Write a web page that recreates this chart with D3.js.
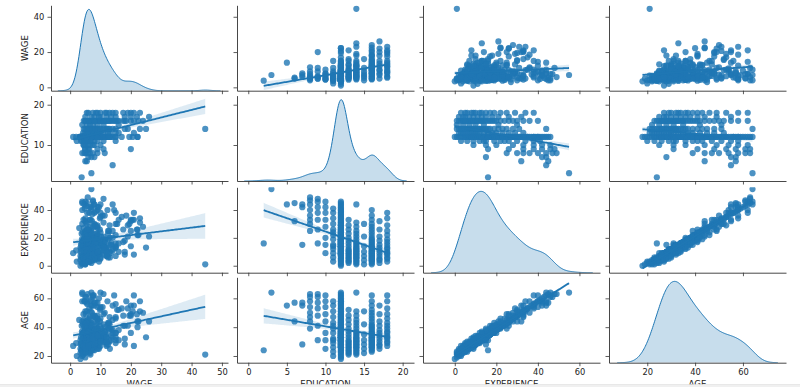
<!DOCTYPE html>
<html><head><meta charset="utf-8">
<script src="https://cdn.jsdelivr.net/npm/d3@7"></script>
<style>body{margin:0;background:#fff;} svg{display:block;font-family:"DejaVu Sans",sans-serif;}</style>
</head><body><svg id="c" width="800" height="387"></svg>
<script>
const VARIABLES = ["WAGE", "EDUCATION", "EXPERIENCE", "AGE"];

const EDUCATION = [
  2, 3, 5, 6, 6, 7, 7, 7,
  8, 8, 8, 8, 8, 8, 8, 8,
  9, 9, 9, 9, 9, 9, 9,
  10, 10, 10, 10, 10, 10, 10, 10,
  11, 11, 11, 11, 11, 11, 11, 11, 11, 11, 11, 11, 11, 11,
  12, 12, 12, 12, 12, 12, 12, 12, 12, 12, 12, 12, 12, 12, 12,
  12, 12, 12, 12, 12, 12, 12, 12, 12, 12, 12, 12, 12, 12, 12,
  12, 12, 12, 12, 12, 12, 12, 12, 12, 12, 12, 12, 12, 12, 12,
  12, 12, 12, 12, 12, 12, 12, 12, 12, 12, 12, 12, 12, 12, 12,
  12, 12, 12, 12, 12, 12, 12, 12, 12, 12, 12, 12, 12, 12, 12,
  12, 12, 12, 12, 12, 12, 12, 12, 12, 12, 12, 12, 12, 12, 12,
  12, 12, 12, 12, 12, 12, 12, 12, 12, 12, 12, 12, 12, 12, 12,
  12, 12, 12, 12, 12, 12, 12, 12, 12, 12, 12, 12, 12, 12, 12,
  12, 12, 12, 12, 12, 12, 12, 12, 12, 12, 12, 12, 12, 12, 12,
  13, 13, 13, 13, 13, 13, 13, 13, 13, 13, 13, 13, 13, 13, 13, 13, 13, 13, 13,
  14, 14, 14, 14, 14, 14, 14, 14, 14, 14, 14, 14, 14, 14,
  14, 14, 14, 14, 14, 14, 14, 14, 14, 14, 14, 14, 14, 14,
  15, 15, 15, 15, 15, 15, 15,
  16, 16, 16, 16, 16, 16, 16, 16, 16, 16, 16, 16, 16, 16, 16, 16, 16, 16, 16,
  16, 16, 16, 16, 16, 16, 16, 16, 16, 16, 16, 16, 16, 16, 16, 16, 16, 16,
  17, 17, 17, 17, 17, 17, 17, 17, 17, 17, 17, 17,
  18, 18, 18, 18, 18, 18, 18, 18, 18, 18, 18, 18, 18, 18, 18, 18
];

const EXPERIENCE = [
  16, 55, 44, 45, 32, 44, 15, 42,
  25, 30, 33, 36, 40, 44, 47, 49,
  16, 26, 33, 38, 42, 46, 48,
  9, 15, 20, 28, 33, 38, 42, 46,
  3, 6, 9, 12, 15, 19, 22, 26, 30, 34, 38, 41, 14, 24,
  0, 1, 2, 3, 4, 5, 21, 23, 26, 28, 24, 19, 27, 22, 29,
  5, 6, 15, 16, 7, 17, 18, 8, 8, 8, 9, 9, 9, 10, 10,
  10, 11, 11, 11, 12, 12, 13, 13, 14, 14, 15, 15, 16, 16, 17,
  17, 18, 18, 19, 19, 20, 20, 21, 21, 22, 22, 23, 24, 25, 25,
  26, 27, 28, 29, 30, 30, 31, 32, 33, 34, 35, 35, 36, 37, 38,
  38, 39, 40, 40, 41, 42, 43, 44, 45, 46, 9, 11, 13, 15, 17,
  7, 8, 9, 10, 11, 12, 13, 14, 15, 16, 10, 14, 8, 12, 18,
  14, 15, 16, 17, 18, 19, 20, 21, 22, 23, 24, 25, 26, 18, 16,
  12, 13, 15, 17, 19, 20, 21, 23, 25, 27, 29, 31, 33, 14, 16,
  2, 3, 4, 5, 6, 7, 8, 9, 10, 11, 12, 14, 16, 18, 20, 23, 26, 29, 33,
  1, 2, 3, 4, 5, 6, 7, 8, 9, 10, 11, 12, 13, 14,
  15, 16, 17, 19, 21, 23, 25, 28, 31, 44, 8, 10, 12, 6,
  1, 4, 7, 10, 14, 21, 30,
  1, 2, 3, 4, 5, 6, 6, 7, 8, 8, 9, 10, 10, 11, 12, 13, 14, 15, 16,
  17, 18, 19, 20, 22, 24, 26, 28, 30, 33, 36, 40, 4, 7, 9, 11, 13, 5,
  2, 4, 5, 7, 9, 11, 13, 15, 18, 21, 26, 32,
  3, 5, 6, 8, 9, 10, 12, 13, 15, 17, 19, 22, 25, 29, 34, 38
];

const WAGE = [
  3.8, 7.0, 14.0, 5.5, 5.0, 8.0, 6.0, 7.0,
  5.1, 4.0, 6.5, 11.4, 9.0, 4.7, 7.5, 5.8,
  4.9, 6.0, 20.0, 6.3, 9.0, 5.0, 11.0,
  4.5, 6.0, 5.0, 8.0, 4.4, 10.0, 6.5, 7.5,
  2.2, 4.0, 5.5, 3.6, 7.0, 4.5, 9.0, 6.0, 15.0, 5.0, 8.0, 4.8, 11.0, 6.5,
  3.4, 5.0, 4.0, 6.7, 3.4, 4.5, 7.5, 3.8, 5.5, 9.0, 4.2, 6.0, 3.0, 5.3, 8.2,
  4.5, 3.7, 6.2, 10.0, 5.0, 7.0, 4.3, 4.8, 6.5, 9.4, 4.5, 8.8, 3.8, 5.6, 7.8,
  12.0, 4.4, 6.0, 8.5, 12.0, 5.3, 7.2, 4.1, 9.6, 6.3, 10.5, 4.6, 8.0, 13.5, 7.5,
  11.4, 6.8, 9.3, 11.5, 5.0, 7.6, 14.0, 5.8, 10.2, 6.5, 22.2, 8.7, 4.9, 12.5, 7.0,
  22.2, 9.0, 6.4, 13.0, 8.0, 19.5, 11.0, 7.2, 20.6, 9.8, 10.0, 17.0, 10.7, 7.3, 15.0,
  5.6, 8.4, 12.3, 4.0, 6.9, 9.5, 5.3, 7.8, 4.0, 4.0, 1.0, 2.0, 3.4, 11.3, 4.0,
  3.4, 6.2, 5.2, 8.0, 4.6, 6.0, 15.0, 7.0, 5.5, 9.0, 3.5, 6.5, 7.7, 6.0, 4.3,
  5.8, 4.2, 6.9, 5.1, 7.4, 3.9, 6.0, 8.4, 4.7, 5.5, 7.1, 6.3, 9.8, 4.4, 6.6,
  7.3, 5.0, 3.6, 8.9, 6.1, 4.8, 5.6, 7.0, 12.8, 4.5, 8.3, 5.2, 6.8, 9.1, 5.4,
  4.3, 6.5, 5.0, 8.0, 13.1, 7.0, 21.0, 9.5, 5.5, 11.0, 7.5, 15.0, 6.0, 10.0, 8.8, 12.5, 5.8, 9.0, 16.0,
  44.5, 5.0, 6.0, 7.5, 9.0, 4.5, 12.0, 8.0, 6.5, 13.0, 10.0, 7.0, 25.0, 11.0,
  8.5, 15.0, 6.0, 12.5, 19.0, 9.0, 14.0, 7.5, 23.0, 10.0, 18.0, 12.0, 6.5, 5.5,
  4.0, 6.5, 9.0, 16.0, 7.5, 11.0, 5.5,
  5.0, 7.0, 9.5, 6.0, 10.0, 12.5, 8.0, 15.0, 11.0, 6.5, 13.3, 9.0, 18.0, 14.0, 7.5, 12.0, 20.0, 10.5, 16.0,
  8.5, 11.5, 9.8, 13.0, 22.5, 10.0, 17.5, 24.0, 15.5, 21.0, 18.5, 14.5, 5.0, 6.0, 8.0, 12.0, 11.0, 4.5,
  5.0, 8.0, 7.0, 12.0, 10.0, 9.5, 15.0, 13.5, 18.0, 26.0, 22.0, 20.0,
  6.0, 8.5, 10.0, 7.5, 12.0, 9.0, 14.0, 11.5, 13.0, 17.5, 5.5, 15.0, 20.0, 19.0, 23.0, 21.0
];

const AGE = [
  24, 64, 55, 57, 44, 57, 28, 55,
  39, 44, 47, 50, 54, 58, 61, 63,
  31, 41, 48, 53, 57, 61, 63,
  25, 31, 36, 44, 49, 54, 58, 62,
  20, 23, 26, 29, 32, 36, 39, 43, 47, 51, 55, 58, 31, 41,
  18, 19, 20, 21, 22, 23, 39, 41, 44, 46, 42, 37, 45, 40, 47,
  23, 24, 33, 34, 25, 35, 36, 26, 26, 26, 27, 27, 27, 28, 28,
  28, 29, 29, 29, 30, 30, 31, 31, 32, 32, 33, 33, 34, 34, 35,
  35, 36, 36, 37, 37, 38, 38, 39, 39, 40, 40, 41, 42, 43, 43,
  44, 45, 46, 47, 48, 48, 49, 50, 51, 52, 53, 53, 54, 55, 56,
  56, 57, 58, 58, 59, 60, 61, 62, 63, 64, 27, 29, 31, 33, 35,
  25, 26, 27, 28, 29, 30, 31, 32, 33, 34, 28, 32, 26, 30, 36,
  32, 33, 34, 35, 36, 37, 38, 39, 40, 41, 42, 43, 44, 36, 34,
  30, 31, 33, 35, 37, 38, 39, 41, 43, 45, 47, 49, 51, 32, 34,
  21, 22, 23, 24, 25, 26, 27, 28, 29, 30, 31, 33, 35, 37, 39, 42, 45, 48, 52,
  21, 22, 23, 24, 25, 26, 27, 28, 29, 30, 31, 32, 33, 34,
  35, 36, 37, 39, 41, 43, 45, 48, 51, 64, 28, 30, 32, 26,
  22, 25, 28, 31, 35, 42, 51,
  23, 24, 25, 26, 27, 28, 28, 29, 30, 30, 31, 32, 32, 33, 34, 35, 36, 37, 38,
  39, 40, 41, 42, 44, 46, 48, 50, 52, 55, 58, 62, 26, 29, 31, 33, 35, 27,
  25, 27, 28, 30, 32, 34, 36, 38, 41, 44, 49, 55,
  27, 29, 30, 32, 33, 34, 36, 37, 39, 41, 43, 46, 49, 53, 58, 62
];

// tick labels
const COL_TICKS_WAGE = [0, 10, 20, 30, 40, 50];
const COL_TICKS_EDUCATION = [0, 5, 10, 15, 20];
const COL_TICKS_EXPERIENCE = [0, 20, 40, 60];
const COL_TICKS_AGE = [20, 40, 60];
const ROW_TICKS_WAGE = [0, 20, 40];
const ROW_TICKS_EDUCATION = [10, 20];
const ROW_TICKS_EXPERIENCE = [0, 20, 40];
const ROW_TICKS_AGE = [20, 40, 60];

const series = [WAGE, EDUCATION, EXPERIENCE, AGE];
const colTicks = [COL_TICKS_WAGE, COL_TICKS_EDUCATION, COL_TICKS_EXPERIENCE, COL_TICKS_AGE];
const rowTicks = [ROW_TICKS_WAGE, ROW_TICKS_EDUCATION, ROW_TICKS_EXPERIENCE, ROW_TICKS_AGE];

// layout
const colX = [51, 237, 423, 609], PW = 177;
const rowY = [5.3, 95.6, 187.3, 277.3], PH = 85.4;
const xDom = [[-6.3, 52.0], [-1.46, 21.47], [-15.3, 69.9], [4.0, 78.0]];
const yDom = [[-1.9, 46.5], [1.07, 22.26], [-5.0, 56.3], [15.35, 74.6]];
const BLUE = "#1f77b4";
const AX = "#333";

const svg = d3.select("#c");
const defs = svg.append("defs");

function kdeCurve(vals) {
  const n = vals.length;
  const sd = d3.deviation(vals);
  const bw = sd * Math.pow(n, -0.2);
  const lo = d3.min(vals) - 3 * bw, hi = d3.max(vals) + 3 * bw;
  const pts = [];
  const N = 240;
  for (let k = 0; k <= N; k++) {
    const x = lo + (hi - lo) * k / N;
    let s = 0;
    for (const v of vals) { const u = (x - v) / bw; s += Math.exp(-0.5 * u * u); }
    pts.push([x, s / (n * bw * Math.sqrt(2 * Math.PI))]);
  }
  return pts;
}
function regression(xs, ys) {
  const n = xs.length;
  const mx = d3.mean(xs), my = d3.mean(ys);
  let sxx = 0, sxy = 0;
  for (let k = 0; k < n; k++) { sxx += (xs[k] - mx) ** 2; sxy += (xs[k] - mx) * (ys[k] - my); }
  const b = sxy / sxx, a = my - b * mx;
  let sse = 0;
  for (let k = 0; k < n; k++) sse += (ys[k] - a - b * xs[k]) ** 2;
  const s = Math.sqrt(sse / (n - 2));
  const lo = d3.min(xs), hi = d3.max(xs);
  const pts = [];
  const N = 100;
  for (let k = 0; k <= N; k++) {
    const x = lo + (hi - lo) * k / N;
    const yh = a + b * x;
    const se = s * Math.sqrt(1 / n + (x - mx) ** 2 / sxx);
    pts.push({ x, y: yh, lo: yh - 1.97 * se, hi: yh + 1.97 * se });
  }
  return pts;
}

for (let i = 0; i < 4; i++) {
  for (let j = 0; j < 4; j++) {
    const g = svg.append("g").attr("transform", `translate(${colX[j]},${rowY[i]})`);
    const x = d3.scaleLinear().domain(xDom[j]).range([0, PW]);
    const y = d3.scaleLinear().domain(yDom[i]).range([PH, 0]);
    const cid = `clip${i}${j}`;
    defs.append("clipPath").attr("id", cid).append("rect").attr("width", PW).attr("height", PH);
    const plot = g.append("g").attr("clip-path", `url(#${cid})`);

    if (i === j) {
      const pts = kdeCurve(series[j]);
      const yd = d3.scaleLinear().domain([0, d3.max(pts, p => p[1]) * 1.05]).range([PH, 0]);
      plot.append("path").datum(pts)
        .attr("d", d3.area().x(p => x(p[0])).y0(PH).y1(p => yd(p[1])))
        .attr("fill", BLUE).attr("fill-opacity", 0.25);
      plot.append("path").datum(pts)
        .attr("d", d3.line().x(p => x(p[0])).y(p => yd(p[1])))
        .attr("fill", "none").attr("stroke", BLUE).attr("stroke-width", 1);
    } else {
      const xs = series[j], ys = series[i];
      plot.selectAll("circle").data(d3.range(xs.length)).join("circle")
        .attr("cx", k => x(xs[k])).attr("cy", k => y(ys[k])).attr("r", 3.1)
        .attr("fill", BLUE).attr("fill-opacity", 0.8);
      const reg = regression(xs, ys);
      plot.append("path").datum(reg)
        .attr("d", d3.area().x(p => x(p.x)).y0(p => y(p.lo)).y1(p => y(p.hi)))
        .attr("fill", BLUE).attr("fill-opacity", 0.15);
      plot.append("path").datum(reg)
        .attr("d", d3.line().x(p => x(p.x)).y(p => y(p.y)))
        .attr("fill", "none").attr("stroke", BLUE).attr("stroke-width", 1.8);
    }

    const ya = d3.axisLeft(y).tickValues(rowTicks[i]).tickSize(3.5).tickPadding(3.2).tickSizeOuter(0)
      .tickFormat(j === 0 ? d3.format("d") : () => "");
    const xa = d3.axisBottom(x).tickValues(colTicks[j]).tickSize(3.5).tickPadding(3).tickSizeOuter(0)
      .tickFormat(i === 3 ? d3.format("d") : () => "");
    const gy = g.append("g").call(ya);
    const gx = g.append("g").attr("transform", `translate(0,${PH})`).call(xa);
    for (const ga of [gx, gy]) {
      ga.select(".domain").attr("stroke", AX).attr("stroke-width", 0.9);
      ga.selectAll(".tick line").attr("stroke", AX).attr("stroke-width", 0.8);
      ga.selectAll(".tick text").attr("fill", "#222").style("font-size", "8.3px")
        .style("font-family", "'DejaVu Sans', sans-serif");
    }
  }
}

// axis titles
for (let i = 0; i < 4; i++) {
  svg.append("text")
    .attr("transform", `translate(24.5,${rowY[i] + PH / 2}) rotate(-90)`)
    .attr("text-anchor", "middle").attr("dy", "0.35em")
    .style("font-size", "8.6px").attr("fill", "#222").text(VARIABLES[i]);
}
for (let j = 0; j < 4; j++) {
  svg.append("text")
    .attr("x", colX[j] + PW / 2).attr("y", 386.5)
    .attr("text-anchor", "middle")
    .style("font-size", "8.6px").attr("fill", "#222").text(VARIABLES[j]);
}
// bottom strip of the original screenshot
svg.append("rect").attr("x", 0).attr("y", 384.5).attr("width", 800).attr("height", 2.5).attr("fill", "#f0f0f0");
svg.append("line").attr("x1", 0).attr("x2", 800).attr("y1", 384.5).attr("y2", 384.5).attr("stroke", "#dedede").attr("stroke-width", 0.6);
</script></body></html>
